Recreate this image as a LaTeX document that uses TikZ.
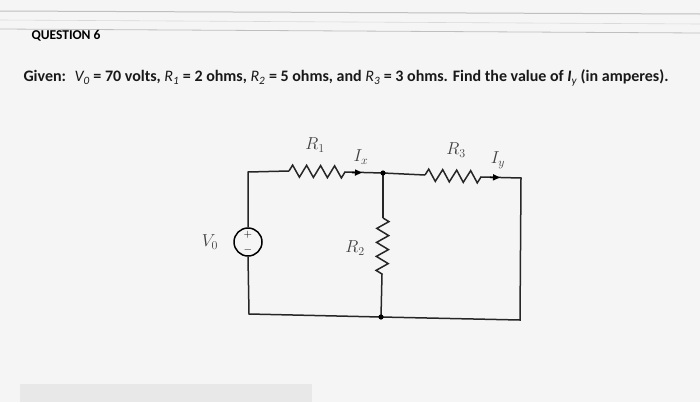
\documentclass[tikz,border=0pt]{standalone}
\usepackage{fontspec}
\setmainfont{Carlito}
\usetikzlibrary{decorations.pathmorphing,arrows.meta}
\begin{document}
\begin{tikzpicture}[x=1pt,y=-1pt,
  wire/.style={line width=1.5pt,color=black!85},
  res/.style={wire,decorate,decoration={zigzag,segment length=14pt,amplitude=6pt}},
  lab/.style={font=\fontsize{17}{17}\selectfont,text=black!75},
  arr/.style={-{Triangle[length=7pt,width=6pt]},line width=1.5pt}]
\fill[black!4] (0,0) rectangle (700,402);
\useasboundingbox (0,0) rectangle (700,402);
\draw[black!25,line width=1pt] (0,11) -- (700,14);
\draw[black!15,line width=0.6pt] (0,20) -- (700,24);
\draw[black!25,line width=0.8pt] (0,29) -- (700,33);
\fill[blue!5!black!9] (20,384) rectangle (312,402);
\node[anchor=west,font=\bfseries\fontsize{13.5}{13.5}\selectfont] (q) at (28,36) {QUESTION 6};
\node[anchor=west,font=\bfseries\fontsize{15}{15}\selectfont,text=black!90] (g) at (20,78)
 {\resizebox{645pt}{!}{Given: \ $\mathit{V_0}$ = 70 volts, $\mathit{R_1}$ = 2 ohms, $\mathit{R_2}$ = 5 ohms, and $\mathit{R_3}$ = 3 ohms. Find the value of \textit{I}$_{\mathit{y}}$ (in amperes).}};
\coordinate (tl) at (248,172);
\coordinate (r1a) at (289,171);
\coordinate (r1b) at (345,172);
\coordinate (j1) at (383,173);
\coordinate (r3a) at (425,175);
\coordinate (r3b) at (481,177);
\coordinate (tr) at (521,178);
\coordinate (br) at (520,320);
\coordinate (j2) at (381,317);
\coordinate (bl) at (249,314);
\coordinate (r2a) at (383,218);
\coordinate (r2b) at (382,274);
\node[circle,draw,line width=1.5pt,minimum size=28pt,inner sep=0pt] (src) at (248,242) {};
\node[inner sep=0pt,font=\fontsize{11}{11}\selectfont] (plus) at (248,235) {$+$};
\node[inner sep=0pt,font=\fontsize{11}{11}\selectfont] (minus) at (248,250) {$-$};
\draw[wire] (src.north) -- (tl) -- (r1a);
\draw[res] (r1a) -- (r1b);
\draw[wire] (r1b) -- (j1) -- (r3a);
\draw[res] (r3a) -- (r3b);
\draw[wire] (r3b) -- (tr) -- (br) -- (j2) -- (bl) -- (src.south);
\draw[wire] (j1) -- (r2a);
\draw[res] (r2a) -- (r2b);
\draw[wire] (r2b) -- (j2);
\fill (j1) circle (2.6pt);
\fill (j2) circle (2.6pt);
\draw[arr] (352,172.5) -- (362,172.6);
\draw[arr] (490,177.3) -- (500,177.5);
\node[lab] (l1) at (315,145) {$R_1$};
\node[lab] (lx) at (361,157) {$I_x$};
\node[lab] (l3) at (456,150) {$R_3$};
\node[lab] (ly) at (498,160) {$I_y$};
\node[lab] (l2) at (355,248) {$R_2$};
\node[lab] (lv) at (210,242) {$V_0$};
\end{tikzpicture}
\end{document}
